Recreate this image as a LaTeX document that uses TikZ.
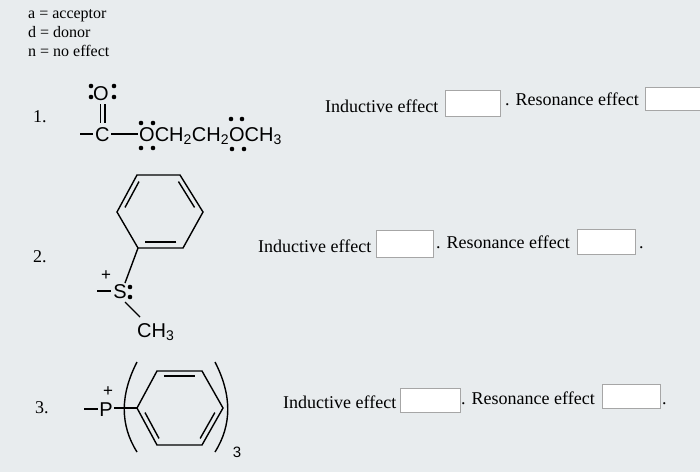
\documentclass[tikz,border=0pt]{standalone}
\usepackage{fontspec}
\setmainfont{Liberation Serif}
\newfontfamily\chemf{Liberation Sans}
\usetikzlibrary{calc}
\begin{document}
\begin{tikzpicture}[x=1pt,y=-1pt,
  lab/.style={font=\fontsize{18}{20}\selectfont,anchor=base west,inner sep=0},
  ans/.style={draw=black!35,fill=white,line width=0.6pt},
  chem/.style={font=\chemf\fontsize{20}{22}\selectfont,inner sep=0,anchor=base west},
  bond/.style={line width=1.4pt},
  dot/.style={fill=black,circle,inner sep=0,minimum size=4.6pt}]
\fill[fill={rgb,255:red,232;green,236;blue,238}] (0,0) rectangle (700,472);
\useasboundingbox (0,0) rectangle (700,472);
% legend
\node[lab,font=\fontsize{16}{18}\selectfont] (la) at (28,18) {a = acceptor};
\node[lab,font=\fontsize{16}{18}\selectfont] (ld) at (28,37) {d = donor};
\node[lab,font=\fontsize{16}{18}\selectfont] (ln) at (28,56) {n = no effect};
% numbers
\node[lab] (n1) at (33,122) {1.};
\node[lab] (n2) at (33,262) {2.};
\node[lab] (n3) at (35,413) {3.};
% row 1 text
\node[lab] (i1) at (325,112) {Inductive effect};
\node[ans,minimum width=55pt,minimum height=26pt,anchor=north west] (b1) at (445,90) {};
\node[lab] (r1) at (505,105) {. Resonance effect};
\node[ans,minimum width=60pt,minimum height=23pt,anchor=north west] (c1) at (645,87) {};
% row 2
\node[lab] (i2) at (258,252) {Inductive effect};
\node[ans,minimum width=57pt,minimum height=27pt,anchor=north west] (b2) at (376,230) {};
\node[lab] (r2) at (436,248) {. Resonance effect};
\node[ans,minimum width=58pt,minimum height=25pt,anchor=north west] (c2) at (577,229) {};
\node[lab] (d2) at (639,248) {.};
% row 3
\node[lab] (i3) at (283,408) {Inductive effect};
\node[ans,minimum width=60pt,minimum height=24pt,anchor=north west] (b3) at (400,388) {};
\node[lab] (r3) at (461,404) {. Resonance effect};
\node[ans,minimum width=58pt,minimum height=24pt,anchor=north west] (c3) at (602,384) {};
\node[lab] (d3) at (662,404) {.};
% ---- structure 1
\node[chem] (O1) at (93,100) {O};
\node[chem] (C1) at (95,141) {C};
\draw[bond] (100.5,104) -- (100.5,123) (105,104) -- (105,123);
\draw[bond] (80,134) -- (93,134);
\draw[bond] (111,134) -- (138,134);
\node[chem] (ch) at (139,141) {OCH\textsubscript{2}CH\textsubscript{2}OCH\textsubscript{3}};
\foreach \p in {(91,86),(91,97),(114,86),(114,97),(141,123),(153,123),(141,148),(153,148),(231,119),(242,119),(232,149),(244,149)}
  \node[dot] at \p {};
% ---- structure 2
\coordinate (a1) at (137,175); \coordinate (a2) at (180,175);
\coordinate (a3) at (203,212); \coordinate (a4) at (183,248);
\coordinate (a5) at (138,248); \coordinate (a6) at (117,212);
\draw[bond] (a1)--(a2)--(a3)--(a4)--(a5)--(a6)--cycle;
\draw[bond] ($(a6)!0.15!(a1)+(5,1)$) -- ($(a6)!0.85!(a1)+(5,1)$);
\draw[bond] ($(a2)!0.15!(a3)+(-5,1)$) -- ($(a2)!0.85!(a3)+(-5,1)$);
\draw[bond] ($(a4)!0.15!(a5)+(0,-6)$) -- ($(a4)!0.85!(a5)+(0,-6)$);
\node[chem,anchor=center] (S) at (120,292) {S};
\draw[bond] (a5) -- (125,283);
\draw[bond] (97,291) -- (111,291);
\node[chem,anchor=center,font=\chemf\fontsize{17}{18}\selectfont] (pS) at (106,276) {+};
\node[dot] at (130,287) {}; \node[dot] at (130,297) {};
\draw[bond] (125,302) -- (140,317);
\node[chem] (CH3) at (137,337) {CH\textsubscript{3}};
% ---- structure 3
\node[chem,anchor=center] (P) at (106,410) {P};
\node[chem,anchor=center,font=\chemf\fontsize{17}{18}\selectfont] (pP) at (108,392) {+};
\draw[bond] (84,409) -- (98,409);
\coordinate (h1) at (137,408); \coordinate (h2) at (157,371);
\coordinate (h3) at (202,371); \coordinate (h4) at (223,408);
\coordinate (h5) at (202,445); \coordinate (h6) at (157,445);
\draw[bond] (114,408) -- (h1);
\draw[bond] (h1)--(h2)--(h3)--(h4)--(h5)--(h6)--cycle;
\draw[bond] ($(h2)!0.15!(h3)+(0,5)$) -- ($(h2)!0.85!(h3)+(0,5)$);
\draw[bond] ($(h4)!0.15!(h5)+(-5,-1)$) -- ($(h4)!0.85!(h5)+(-5,-1)$);
\draw[bond] ($(h6)!0.15!(h1)+(5,-1)$) -- ($(h6)!0.85!(h1)+(5,-1)$);
\draw[bond] (137,362) .. controls (120,395) and (120,425) .. (137,452);
\draw[bond] (215,362) .. controls (232,395) and (232,425) .. (215,452);
\node[chem,anchor=center,font=\chemf\fontsize{15}{16}\selectfont] (sub3) at (237,452) {3};
\end{tikzpicture}
\end{document}
